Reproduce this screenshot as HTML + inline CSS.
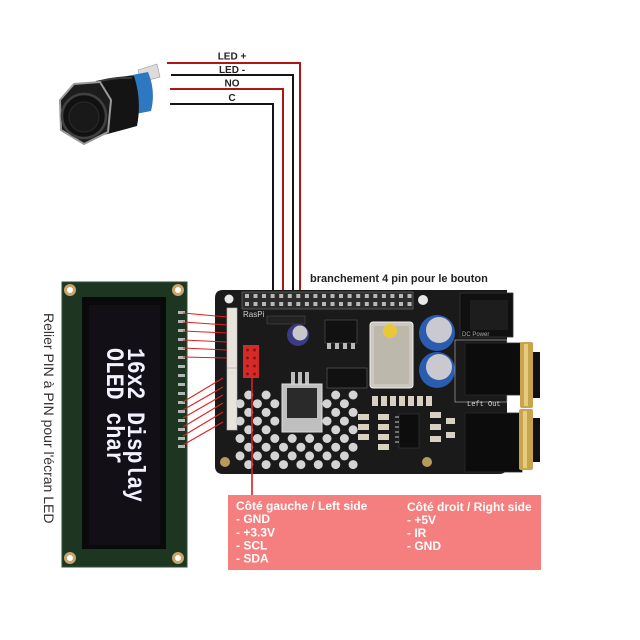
<!DOCTYPE html>
<html><head><meta charset="utf-8"><style>
html,body{margin:0;padding:0;background:#fff;}
svg{display:block;}
</style></head><body>
<svg width="640" height="640" viewBox="0 0 640 640" xmlns="http://www.w3.org/2000/svg">
<rect width="640" height="640" fill="#fff"/>

<!-- Push button -->
<polygon points="138,70 157,64 160,77 141,82" fill="#dcdcdc" stroke="#999" stroke-width="0.6"/>
<path d="M122,77 L148,72 Q156,91 151,111 L125,116 Z" fill="#2d78c0"/>
<path d="M88,84 Q110,76 134,76 Q142,100 137,126 Q115,132 92,138 Z" fill="#141414"/>
<path d="M96,82 Q115,77 132,78" stroke="#3a3a3a" stroke-width="2" fill="none"/>
<polygon points="60,100 74,84 100,82 111,100 108,132 84,144 61,130" fill="#1c1c1c" stroke="#9a9a9a" stroke-width="2"/>
<circle cx="84" cy="116" r="22" fill="#111" stroke="#404040" stroke-width="2.5"/>
<circle cx="84" cy="117" r="15" fill="#191919" stroke="#2c2c2c" stroke-width="1"/>

<!-- Wires -->
<g fill="none" stroke-width="2">
<polyline points="167,63 300,63 300,318" stroke="#b01515"/>
<polyline points="171,75 293,75 293,320" stroke="#141414"/>
<polyline points="170,89 283,89 283,318" stroke="#b01515"/>
<polyline points="170,104 273,104 273,320" stroke="#141414"/>
</g>
<g font-family="Liberation Sans, Arial, sans-serif" font-weight="bold" font-size="10" fill="#222" text-anchor="middle">
<text x="232" y="59.5">LED +</text>
<text x="232" y="73">LED -</text>
<text x="232" y="86.5">NO</text>
<text x="232" y="101">C</text>
</g>

<text x="310" y="282" font-family="Liberation Sans, Arial, sans-serif" font-weight="bold" font-size="11" fill="#222">branchement 4 pin pour le bouton</text>

<!-- Board -->
<path d="M223,290 L507,290 L507,466 Q507,474 499,474 L223,474 Q215,474 215,466 L215,298 Q215,290 223,290 Z" fill="#1a1a1a"/>
<rect x="242" y="292" width="171" height="17" fill="#2c2c2c" stroke="#777" stroke-width="0.6"/>
<g fill="#b8b8b8">
<rect x="245" y="294" width="4" height="4"/><rect x="253.5" y="294" width="4" height="4"/><rect x="262" y="294" width="4" height="4"/><rect x="270.6" y="294" width="4" height="4"/><rect x="279.2" y="294" width="4" height="4"/><rect x="287.8" y="294" width="4" height="4"/><rect x="296.3" y="294" width="4" height="4"/><rect x="304.9" y="294" width="4" height="4"/><rect x="313.4" y="294" width="4" height="4"/><rect x="322" y="294" width="4" height="4"/><rect x="330.5" y="294" width="4" height="4"/><rect x="339" y="294" width="4" height="4"/><rect x="347.6" y="294" width="4" height="4"/><rect x="356.2" y="294" width="4" height="4"/><rect x="364.8" y="294" width="4" height="4"/><rect x="373.3" y="294" width="4" height="4"/><rect x="381.9" y="294" width="4" height="4"/><rect x="390.4" y="294" width="4" height="4"/><rect x="399" y="294" width="4" height="4"/><rect x="407.5" y="294" width="4" height="4"/>
<rect x="245" y="302" width="4" height="4"/><rect x="253.5" y="302" width="4" height="4"/><rect x="262" y="302" width="4" height="4"/><rect x="270.6" y="302" width="4" height="4"/><rect x="279.2" y="302" width="4" height="4"/><rect x="287.8" y="302" width="4" height="4"/><rect x="296.3" y="302" width="4" height="4"/><rect x="304.9" y="302" width="4" height="4"/><rect x="313.4" y="302" width="4" height="4"/><rect x="322" y="302" width="4" height="4"/><rect x="330.5" y="302" width="4" height="4"/><rect x="339" y="302" width="4" height="4"/><rect x="347.6" y="302" width="4" height="4"/><rect x="356.2" y="302" width="4" height="4"/><rect x="364.8" y="302" width="4" height="4"/><rect x="373.3" y="302" width="4" height="4"/><rect x="381.9" y="302" width="4" height="4"/><rect x="390.4" y="302" width="4" height="4"/><rect x="399" y="302" width="4" height="4"/><rect x="407.5" y="302" width="4" height="4"/>
</g>
<text x="243" y="317" font-family="Liberation Sans, sans-serif" font-size="8" fill="#ccc">RasPi</text>
<circle cx="229" cy="299" r="4.5" fill="#e8e8e8"/>
<circle cx="423" cy="300" r="5" fill="#e8e8e8"/>
<circle cx="225" cy="462" r="5" fill="#b89a5a"/>
<circle cx="427" cy="462" r="5" fill="#b89a5a"/>

<rect x="267" y="316" width="38" height="8" fill="#222" stroke="#555" stroke-width="0.5"/>

<circle cx="298" cy="335" r="11" fill="#3b3b86"/>
<circle cx="300" cy="333" r="7.5" fill="#c8c8cc"/>
<rect x="325" y="320" width="32" height="23" fill="#111" stroke="#555" stroke-width="0.6"/>
<g fill="#bbb"><rect x="327" y="343" width="4" height="6"/><rect x="335" y="343" width="4" height="6"/><rect x="343" y="343" width="4" height="6"/><rect x="351" y="343" width="4" height="6"/></g>
<rect x="327" y="368" width="40" height="20" fill="#111" stroke="#666" stroke-width="0.6"/>
<rect x="370" y="322" width="43" height="66" rx="3" fill="#cdc8bd" stroke="#eee" stroke-width="1"/>
<rect x="374" y="326" width="35" height="58" rx="2" fill="#bdb8ac"/>
<circle cx="390" cy="331" r="7" fill="#e8c83a"/>
<circle cx="437" cy="370" r="18" fill="#2a5cb0"/>
<circle cx="439" cy="367" r="13" fill="#c9c9cf"/>
<circle cx="437" cy="333" r="18" fill="#2a5cb0"/>
<circle cx="439" cy="330" r="13" fill="#c9c9cf"/>
<rect x="243" y="345" width="16" height="33" fill="#d52a2a"/>
<g fill="#8a1515"><circle cx="247.5" cy="350" r="1.5"/><circle cx="254.5" cy="350" r="1.5"/><circle cx="247.5" cy="358" r="1.5"/><circle cx="254.5" cy="358" r="1.5"/><circle cx="247.5" cy="366" r="1.5"/><circle cx="254.5" cy="366" r="1.5"/><circle cx="247.5" cy="374" r="1.5"/><circle cx="254.5" cy="374" r="1.5"/></g>
<rect x="227" y="308" width="10" height="122" fill="#e8e4dc" stroke="#bbb" stroke-width="0.6"/>
<line x1="227" y1="368" x2="237" y2="368" stroke="#bbb" stroke-width="1"/>

<g fill="#bbb"><rect x="291" y="372" width="4" height="13"/><rect x="298" y="372" width="4" height="13"/><rect x="305" y="372" width="4" height="13"/></g>
<rect x="282" y="384" width="40" height="48" fill="#bfbfbf" stroke="#ddd" stroke-width="1"/>
<rect x="287" y="388" width="30" height="30" fill="#2a2a2a"/>

<g fill="#d4d4d4">
<circle cx="248.7" cy="395" r="4.5"/><circle cx="266.1" cy="395" r="4.5"/><circle cx="335.7" cy="395" r="4.5"/><circle cx="353.1" cy="395" r="4.5"/>
<circle cx="240" cy="403.7" r="4.5"/><circle cx="257.4" cy="403.7" r="4.5"/><circle cx="274.8" cy="403.7" r="4.5"/><circle cx="327" cy="403.7" r="4.5"/><circle cx="344.4" cy="403.7" r="4.5"/>
<circle cx="248.7" cy="412.4" r="4.5"/><circle cx="266.1" cy="412.4" r="4.5"/><circle cx="335.7" cy="412.4" r="4.5"/><circle cx="353.1" cy="412.4" r="4.5"/>
<circle cx="240" cy="421.1" r="4.5"/><circle cx="257.4" cy="421.1" r="4.5"/><circle cx="274.8" cy="421.1" r="4.5"/><circle cx="327" cy="421.1" r="4.5"/><circle cx="344.4" cy="421.1" r="4.5"/>
<circle cx="248.7" cy="429.8" r="4.5"/><circle cx="266.1" cy="429.8" r="4.5"/><circle cx="335.7" cy="429.8" r="4.5"/><circle cx="353.1" cy="429.8" r="4.5"/>
<circle cx="240" cy="438.5" r="4.5"/><circle cx="257.4" cy="438.5" r="4.5"/><circle cx="274.8" cy="438.5" r="4.5"/><circle cx="292.2" cy="438.5" r="4.5"/><circle cx="309.6" cy="438.5" r="4.5"/><circle cx="327" cy="438.5" r="4.5"/><circle cx="344.4" cy="438.5" r="4.5"/>
<circle cx="248.7" cy="447.2" r="4.5"/><circle cx="266.1" cy="447.2" r="4.5"/><circle cx="283.5" cy="447.2" r="4.5"/><circle cx="300.9" cy="447.2" r="4.5"/><circle cx="318.3" cy="447.2" r="4.5"/><circle cx="335.7" cy="447.2" r="4.5"/><circle cx="353.1" cy="447.2" r="4.5"/>
<circle cx="240" cy="455.9" r="4.5"/><circle cx="257.4" cy="455.9" r="4.5"/><circle cx="274.8" cy="455.9" r="4.5"/><circle cx="292.2" cy="455.9" r="4.5"/><circle cx="309.6" cy="455.9" r="4.5"/><circle cx="327" cy="455.9" r="4.5"/><circle cx="344.4" cy="455.9" r="4.5"/>
<circle cx="248.7" cy="464.6" r="4.5"/><circle cx="266.1" cy="464.6" r="4.5"/><circle cx="283.5" cy="464.6" r="4.5"/><circle cx="300.9" cy="464.6" r="4.5"/><circle cx="318.3" cy="464.6" r="4.5"/><circle cx="335.7" cy="464.6" r="4.5"/><circle cx="353.1" cy="464.6" r="4.5"/>
</g>

<g fill="#d8d0c0">
<rect x="372" y="396" width="6" height="10"/><rect x="381" y="396" width="6" height="10"/><rect x="390" y="396" width="6" height="10"/><rect x="399" y="396" width="6" height="10"/><rect x="408" y="396" width="6" height="10"/><rect x="417" y="396" width="6" height="10"/><rect x="426" y="396" width="6" height="10"/>
<rect x="358" y="414" width="11" height="6"/><rect x="358" y="424" width="11" height="6"/><rect x="358" y="434" width="11" height="6"/>
<rect x="378" y="414" width="11" height="6"/><rect x="378" y="424" width="11" height="6"/><rect x="378" y="434" width="11" height="6"/><rect x="378" y="444" width="11" height="6"/>
<rect x="430" y="412" width="11" height="6"/><rect x="430" y="424" width="11" height="6"/><rect x="430" y="436" width="11" height="6"/><rect x="446" y="418" width="9" height="6"/><rect x="446" y="432" width="9" height="6"/>
</g>
<rect x="399" y="414" width="20" height="34" fill="#0d0d0d" stroke="#444" stroke-width="0.5"/>
<g stroke="#aaa" stroke-width="1.2"><line x1="395" y1="417" x2="399" y2="417"/><line x1="395" y1="422" x2="399" y2="422"/><line x1="395" y1="427" x2="399" y2="427"/><line x1="395" y1="432" x2="399" y2="432"/><line x1="395" y1="437" x2="399" y2="437"/><line x1="395" y1="442" x2="399" y2="442"/></g>

<rect x="455" y="340" width="52" height="62" fill="none" stroke="#bbb" stroke-width="0.6"/>
<rect x="460" y="293" width="53" height="44" fill="#101010" stroke="#333" stroke-width="0.8"/>
<rect x="470" y="300" width="38" height="30" fill="#1d1d1d"/>
<text x="462" y="336" font-family="Liberation Sans, sans-serif" font-size="6" fill="#aaa">DC Power</text>
<rect x="465" y="343" width="57" height="52" fill="#0c0c0c" stroke="#2a2a2a" stroke-width="0.8"/>
<rect x="465" y="413" width="57" height="59" fill="#0c0c0c" stroke="#2a2a2a" stroke-width="0.8"/>
<rect x="520" y="342" width="13" height="66" rx="2" fill="#c9a44c"/>
<rect x="524" y="344" width="4" height="62" fill="#e6cc80"/>
<rect x="519" y="409" width="14" height="61" rx="2" fill="#c9a44c"/>
<rect x="523" y="411" width="4" height="57" fill="#e6cc80"/>
<rect x="533" y="352" width="7" height="46" fill="#111"/>
<rect x="533" y="418" width="7" height="44" fill="#111"/>
<text x="467" y="406" font-family="Liberation Mono, monospace" font-size="7" fill="#ddd">Left Out</text>

<!-- Display -->
<rect x="62" y="282" width="125" height="285" fill="#1d3622" stroke="#2f5234" stroke-width="1"/>
<g fill="#c9a46a"><circle cx="70" cy="290" r="6"/><circle cx="178" cy="290" r="6"/><circle cx="70" cy="558" r="6"/><circle cx="178" cy="558" r="6"/></g>
<g fill="#fff"><circle cx="70" cy="290" r="3"/><circle cx="178" cy="290" r="3"/><circle cx="70" cy="558" r="3"/><circle cx="178" cy="558" r="3"/></g>
<rect x="82" y="297" width="84" height="252" fill="#0a0a0a"/>
<rect x="89" y="305" width="71" height="240" fill="#120f16"/>
<g fill="#b5b5b5">
<rect x="178" y="311" width="7" height="3"/><rect x="178" y="320" width="7" height="3"/><rect x="178" y="329" width="7" height="3"/><rect x="178" y="338" width="7" height="3"/><rect x="178" y="347" width="7" height="3"/><rect x="178" y="356" width="7" height="3"/><rect x="178" y="365" width="7" height="3"/><rect x="178" y="374" width="7" height="3"/><rect x="178" y="383" width="7" height="3"/><rect x="178" y="392" width="7" height="3"/><rect x="178" y="401" width="7" height="3"/><rect x="178" y="410" width="7" height="3"/><rect x="178" y="419" width="7" height="3"/><rect x="178" y="428" width="7" height="3"/><rect x="178" y="437" width="7" height="3"/><rect x="178" y="445" width="7" height="3"/>
</g>
<g font-family="Liberation Mono, monospace" font-weight="bold" fill="#f2f2ff">
<text transform="translate(128,348) rotate(90)" font-size="25" textLength="154" lengthAdjust="spacingAndGlyphs">16x2 Display</text>
<text transform="translate(107,348) rotate(90)" font-size="25" textLength="116" lengthAdjust="spacingAndGlyphs">OLED char</text>
</g>

<g stroke="#e02020" stroke-width="1.1">
<line x1="183" y1="313" x2="227" y2="317"/>
<line x1="183" y1="322" x2="227" y2="325"/>
<line x1="183" y1="331" x2="227" y2="333"/>
<line x1="183" y1="340" x2="227" y2="342"/>
<line x1="183" y1="348" x2="227" y2="350"/>
<line x1="183" y1="357" x2="227" y2="358"/>
<line x1="183" y1="402" x2="223" y2="378"/>
<line x1="183" y1="410" x2="223" y2="387"/>
<line x1="183" y1="418" x2="223" y2="395"/>
<line x1="183" y1="427" x2="223" y2="403"/>
<line x1="183" y1="436" x2="223" y2="412"/>
<line x1="183" y1="445" x2="223" y2="422"/>
</g>

<text transform="translate(44,313) rotate(90)" font-family="Liberation Sans, Arial, sans-serif" font-size="14" fill="#333">Relier PIN à PIN pour l'écran LED</text>

<line x1="252" y1="378" x2="252" y2="496" stroke="#d42222" stroke-width="1.6"/>

<rect x="228" y="495" width="313" height="75" fill="#f57f7f"/>
<g font-family="Liberation Sans, Arial, sans-serif" font-weight="bold" font-size="12" fill="#fff">
<text x="236" y="510">Côté gauche / Left side</text>
<text x="236" y="523">- GND</text>
<text x="236" y="536.5">- +3.3V</text>
<text x="236" y="549.5">- SCL</text>
<text x="236" y="562.5">- SDA</text>
<text x="407" y="511">Côté droit / Right side</text>
<text x="407" y="524">- +5V</text>
<text x="407" y="537">- IR</text>
<text x="407" y="550">- GND</text>
</g>
</svg>
</body></html>
